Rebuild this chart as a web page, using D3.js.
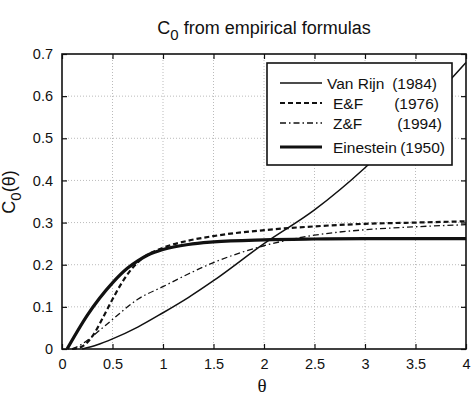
<!DOCTYPE html>
<html>
<head>
<meta charset="utf-8">
<script src="https://cdn.jsdelivr.net/npm/d3@7"></script>
<style>
  body { margin: 0; background: #fff; }
  text { font-family: "Liberation Sans", Arial, sans-serif; fill: #111; }
</style>
</head>
<body>
<script>
// values
var xTicks = [0, 0.5, 1, 1.5, 2, 2.5, 3, 3.5, 4];
var yTicks = [0, 0.1, 0.2, 0.3, 0.4, 0.5, 0.6, 0.7];

var vanRijnX = [0.2, 0.35, 0.5, 0.75, 1, 1.25, 1.5, 2, 2.5, 3, 3.5, 4];
var vanRijnY = [0, 0.01, 0.024, 0.052, 0.086, 0.122, 0.162, 0.25, 0.33, 0.43, 0.55, 0.68];

var efX = [0.1, 0.2, 0.3, 0.4, 0.5, 0.6, 0.7, 0.8, 1, 1.25, 1.5, 2, 2.5, 3, 3.5, 4];
var efY = [0, 0.006, 0.03, 0.072, 0.118, 0.16, 0.193, 0.216, 0.24, 0.257, 0.268, 0.282, 0.291, 0.297, 0.3, 0.303];

var zfX = [0.1, 0.2, 0.3, 0.4, 0.5, 0.75, 1, 1.25, 1.5, 2, 2.5, 3, 3.5, 4];
var zfY = [0, 0.012, 0.03, 0.05, 0.07, 0.118, 0.148, 0.178, 0.205, 0.245, 0.27, 0.283, 0.29, 0.295];

var einX = [0.05, 0.25, 0.5, 0.65, 0.75, 0.85, 1, 1.25, 1.5, 2, 2.5, 3, 4];
var einY = [0, 0.08, 0.157, 0.192, 0.209, 0.223, 0.236, 0.248, 0.254, 0.259, 0.261, 0.262, 0.262];

var names = ["Van Rijn", "E&F", "Z&F", "Einestein"];
var years = ["(1984)", "(1976)", "(1994)", "(1950)"];

var w = 474, h = 395;
var x0 = 62, x1 = 466, y0 = 349, y1 = 54;

var svg = d3.select("body").append("svg")
  .attr("width", w).attr("height", h);

var x = d3.scaleLinear().domain([0, 4]).range([x0, x1]);
var y = d3.scaleLinear().domain([0, 0.7]).range([y0, y1]);

// grid
svg.append("g").selectAll("line").data(xTicks.slice(1, -1)).enter().append("line")
  .attr("x1", d => x(d)).attr("x2", d => x(d)).attr("y1", y0).attr("y2", y1)
  .attr("stroke", "#bbb").attr("stroke-width", 1).attr("stroke-dasharray", "1,2");
svg.append("g").selectAll("line").data(yTicks.slice(1, -1)).enter().append("line")
  .attr("y1", d => y(d)).attr("y2", d => y(d)).attr("x1", x0).attr("x2", x1)
  .attr("stroke", "#bbb").attr("stroke-width", 1).attr("stroke-dasharray", "1,2");

// curves
var series = [
  {xs: vanRijnX, ys: vanRijnY, width: 1.5, dash: null},
  {xs: efX, ys: efY, width: 2.2, dash: "5,3"},
  {xs: zfX, ys: zfY, width: 1.3, dash: "6,3,1.5,3"},
  {xs: einX, ys: einY, width: 3.2, dash: null}
];
var line = d3.line()
  .x(d => x(d[0])).y(d => y(d[1]))
  .curve(d3.curveMonotoneX);

svg.append("g").selectAll("path").data(series).enter().append("path")
  .attr("d", d => line(d.xs.map((v, i) => [v, d.ys[i]])))
  .attr("fill", "none").attr("stroke", "#111")
  .attr("stroke-width", d => d.width)
  .attr("stroke-dasharray", d => d.dash);

// axes with inward ticks, MATLAB style
var gx = svg.append("g").attr("transform", "translate(0," + y0 + ")")
  .call(d3.axisBottom(x).tickValues(xTicks).tickSizeInner(-5).tickSizeOuter(0).tickPadding(10)
    .tickFormat(d3.format("")));
var gy = svg.append("g").attr("transform", "translate(" + x0 + ",0)")
  .call(d3.axisLeft(y).tickValues(yTicks).tickSizeInner(-5).tickSizeOuter(0).tickPadding(9)
    .tickFormat(d3.format("")));
svg.append("g").attr("transform", "translate(0," + y1 + ")")
  .call(d3.axisTop(x).tickValues(xTicks).tickSizeInner(-5).tickSizeOuter(0).tickFormat(""));
svg.append("g").attr("transform", "translate(" + x1 + ",0)")
  .call(d3.axisRight(y).tickValues(yTicks).tickSizeInner(-5).tickSizeOuter(0).tickFormat(""));
svg.selectAll(".domain").remove();
svg.selectAll(".tick line").attr("stroke", "#111").attr("stroke-width", 1.2);
gx.selectAll("text").style("font-size", "14.5px").attr("fill", "#111");
gy.selectAll("text").style("font-size", "14.5px").attr("fill", "#111");

svg.append("rect")
  .attr("x", x0).attr("y", y1).attr("width", x1 - x0).attr("height", y0 - y1)
  .attr("fill", "none").attr("stroke", "#111").attr("stroke-width", 1.6);

// legend
var lg = svg.append("g");
lg.append("rect").attr("x", 267).attr("y", 63).attr("width", 185).attr("height", 102)
  .attr("fill", "#fff").attr("stroke", "#111").attr("stroke-width", 1.6);
var rowY = [83, 103, 123, 147];
var nameX = [327, 333, 333, 333];
var yearX = [437, 439, 442, 445];
series.forEach(function(s, i) {
  lg.append("line").attr("x1", 280).attr("x2", 322).attr("y1", rowY[i]).attr("y2", rowY[i])
    .attr("stroke", "#111").attr("stroke-width", s.width).attr("stroke-dasharray", s.dash);
  lg.append("text").attr("x", nameX[i]).attr("y", rowY[i] + 5.5)
    .style("font-size", "15.5px").text(names[i]);
  lg.append("text").attr("x", yearX[i]).attr("y", rowY[i] + 5.5).attr("text-anchor", "end")
    .style("font-size", "15.5px").text(years[i]);
});

// title and axis labels
var title = svg.append("text").attr("x", 264).attr("y", 34).attr("text-anchor", "middle")
  .style("font-size", "18px");
title.append("tspan").text("C");
title.append("tspan").attr("dy", 6).style("font-size", "15px").text("0");
title.append("tspan").attr("dy", -6).text(" from empirical formulas");

var yl = svg.append("text").attr("transform", "translate(15,192) rotate(-90)")
  .attr("text-anchor", "middle").style("font-size", "18px");
yl.append("tspan").text("C");
yl.append("tspan").attr("dy", 6).style("font-size", "15px").text("0");
yl.append("tspan").attr("dy", -6).text("(θ)");

svg.append("text").attr("x", 262).attr("y", 392).attr("text-anchor", "middle")
  .style("font-size", "19px").style("font-family", "'Liberation Serif', serif").text("θ");
</script>
</body>
</html>
